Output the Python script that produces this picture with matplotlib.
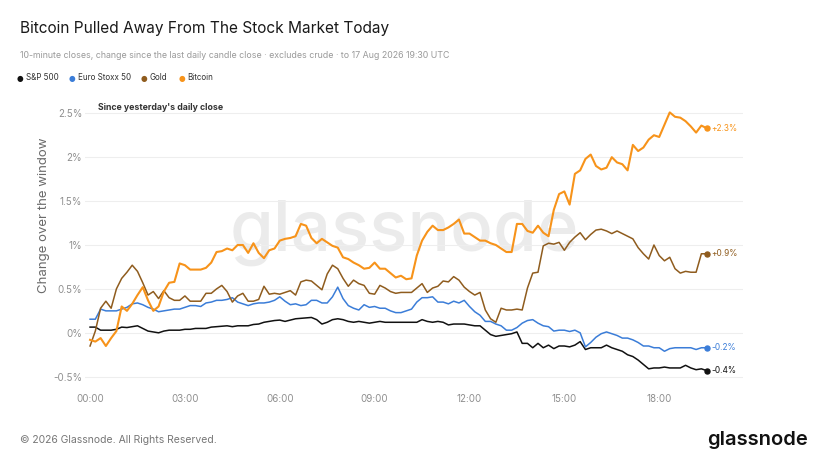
import matplotlib
matplotlib.use("Agg")
import matplotlib.pyplot as plt
import numpy as np

plt.rcParams['font.family'] = ['Inter', 'DejaVu Sans']

# ---------------- data ----------------
series_names = ["S&P 500", "Euro Stoxx 50", "Gold", "Bitcoin"]
series_colors = ["#111111", "#3b7dd8", "#8f5c1e", "#f7931a"]
end_labels = ["-0.4%", "-0.2%", "+0.9%", "+2.3%"]

xtick_hours = [0, 3, 6, 9, 12, 15, 18]
xtick_labels = ["00:00", "03:00", "06:00", "09:00", "12:00", "15:00", "18:00"]
ytick_values = [-0.5, 0, 0.5, 1, 1.5, 2, 2.5]
ytick_labels = ["-0.5%", "0%", "0.5%", "1%", "1.5%", "2%", "2.5%"]

# 10-minute closes, 00:00 .. 19:30 UTC (118 points), % change
sp500 = [
    0.065, 0.065, 0.03, 0.03, 0.03, 0.04, 0.065, 0.06, 0.07, 0.08,
    0.05, 0.02, 0.01, 0.00, 0.02, 0.03, 0.03, 0.03, 0.04, 0.04,
    0.05, 0.05, 0.05, 0.065, 0.07, 0.075, 0.08, 0.07, 0.08, 0.08,
    0.08, 0.095, 0.10, 0.12, 0.13, 0.14, 0.145, 0.13, 0.145, 0.16,
    0.165, 0.17, 0.175, 0.15, 0.10, 0.12, 0.15, 0.16, 0.15, 0.13,
    0.12, 0.13, 0.12, 0.11, 0.12, 0.13, 0.12, 0.12, 0.12, 0.12,
    0.12, 0.12, 0.12, 0.15, 0.13, 0.12, 0.13, 0.12, 0.09, 0.10,
    0.10, 0.10, 0.09, 0.08, 0.08, 0.03, -0.02, -0.04, -0.03, -0.02,
    -0.01, 0.01, -0.12, -0.12, -0.17, -0.12, -0.17, -0.14, -0.18, -0.15,
    -0.15, -0.16, -0.14, -0.10, -0.19, -0.17, -0.17, -0.17, -0.14, -0.17,
    -0.19, -0.21, -0.25, -0.27, -0.31, -0.36, -0.41, -0.40, -0.40, -0.39,
    -0.40, -0.40, -0.40, -0.37, -0.40, -0.42, -0.41, -0.43,
]
eurostoxx = [
    0.155, 0.155, 0.27, 0.25, 0.25, 0.25, 0.27, 0.29, 0.33, 0.34,
    0.32, 0.29, 0.27, 0.24, 0.25, 0.26, 0.27, 0.27, 0.29, 0.31,
    0.31, 0.30, 0.34, 0.35, 0.37, 0.37, 0.38, 0.40, 0.35, 0.33,
    0.31, 0.33, 0.34, 0.34, 0.35, 0.37, 0.41, 0.36, 0.32, 0.33,
    0.31, 0.32, 0.37, 0.37, 0.34, 0.34, 0.41, 0.52, 0.39, 0.31,
    0.28, 0.26, 0.32, 0.29, 0.30, 0.28, 0.28, 0.25, 0.23, 0.23,
    0.25, 0.27, 0.35, 0.40, 0.40, 0.41, 0.35, 0.35, 0.33, 0.36,
    0.34, 0.37, 0.30, 0.24, 0.20, 0.13, 0.13, 0.10, 0.08, 0.03,
    0.03, 0.06, 0.11, 0.14, 0.15, 0.11, 0.08, 0.07, 0.02, 0.03,
    0.03, 0.015, 0.03, 0.00, -0.16, -0.11, -0.05, -0.01, 0.01, -0.01,
    -0.03, -0.06, -0.06, -0.08, -0.11, -0.15, -0.15, -0.17, -0.17, -0.21,
    -0.18, -0.17, -0.17, -0.17, -0.17, -0.19, -0.17, -0.17,
]
gold = [
    -0.15, 0.02, 0.28, 0.36, 0.28, 0.50, 0.62, 0.69, 0.77, 0.70,
    0.57, 0.43, 0.47, 0.39, 0.48, 0.40, 0.37, 0.37, 0.42, 0.36,
    0.36, 0.36, 0.45, 0.45, 0.50, 0.54, 0.47, 0.35, 0.42, 0.45,
    0.36, 0.36, 0.38, 0.53, 0.44, 0.45, 0.44, 0.46, 0.48, 0.43,
    0.58, 0.60, 0.59, 0.54, 0.49, 0.67, 0.77, 0.73, 0.62, 0.53,
    0.60, 0.56, 0.54, 0.45, 0.44, 0.54, 0.51, 0.47, 0.45, 0.46,
    0.46, 0.46, 0.51, 0.56, 0.46, 0.51, 0.53, 0.59, 0.58, 0.64,
    0.60, 0.52, 0.47, 0.43, 0.46, 0.26, 0.16, 0.12, 0.28, 0.26,
    0.26, 0.27, 0.26, 0.51, 0.68, 0.69, 0.99, 1.02, 1.01, 1.03,
    0.94, 1.03, 1.09, 1.14, 1.06, 1.12, 1.17, 1.18, 1.16, 1.13,
    1.16, 1.13, 1.10, 1.07, 0.97, 0.90, 0.84, 1.00, 0.88, 0.82,
    0.86, 0.73, 0.68, 0.70, 0.69, 0.69, 0.90, 0.90,
]
bitcoin = [
    -0.08, -0.10, -0.06, -0.15, -0.06, 0.02, 0.30, 0.25, 0.33, 0.43,
    0.52, 0.37, 0.25, 0.30, 0.47, 0.57, 0.58, 0.79, 0.77, 0.72,
    0.72, 0.72, 0.74, 0.80, 0.92, 0.93, 0.96, 0.94, 1.00, 1.00,
    0.91, 1.02, 0.91, 0.85, 0.94, 0.96, 1.05, 1.07, 1.08, 1.10,
    1.24, 1.22, 1.08, 1.02, 1.07, 1.03, 0.99, 0.97, 0.86, 0.84,
    0.80, 0.77, 0.73, 0.74, 0.80, 0.73, 0.73, 0.68, 0.63, 0.65,
    0.61, 0.62, 0.88, 1.05, 1.15, 1.22, 1.17, 1.17, 1.20, 1.24,
    1.29, 1.13, 1.13, 1.09, 1.05, 1.05, 1.02, 1.00, 0.96, 0.92,
    0.92, 1.24, 1.24, 1.16, 1.14, 1.22, 1.14, 1.10, 1.40, 1.58,
    1.61, 1.46, 1.81, 1.85, 1.98, 2.03, 1.90, 1.86, 1.88, 2.00,
    1.94, 1.92, 1.85, 2.14, 2.07, 2.11, 2.20, 2.25, 2.23, 2.37,
    2.51, 2.46, 2.45, 2.41, 2.35, 2.28, 2.36, 2.33,
]
series_values = [sp500, eurostoxx, gold, bitcoin]
series_lw = [1.1, 1.1, 1.1, 1.5]

# ---------------- figure ----------------
W, H = 828, 466
fig = plt.figure(figsize=(W / 100, H / 100), dpi=100)
fig.patch.set_facecolor("white")
ax = fig.add_axes([85 / W, 1 - 382 / H, (743 - 85) / W, (382 - 108) / H])

hours = np.arange(len(bitcoin)) / 6.0

# watermark
ax.text(0.486, 0.545, "glassnode", transform=ax.transAxes, ha="center", va="center",
        fontsize=51, color="#ebebeb", fontweight="medium", zorder=0)

for vals, col, lw, lab in zip(series_values, series_colors, series_lw, end_labels):
    ax.plot(hours, vals, color=col, lw=lw, zorder=3, solid_joinstyle="round")
    ax.plot(hours[-1], vals[-1], "o", color=col, ms=3.6, zorder=4)
    ax.annotate(lab, (hours[-1], vals[-1]), xytext=(3.5, 0), textcoords="offset points",
                ha="left", va="center", fontsize=6, color=col)

ax.set_xlim(-0.16, 20.65)
ax.set_ylim(-0.56, 2.56)
ax.set_xticks(xtick_hours)
ax.set_xticklabels(xtick_labels)
ax.set_yticks(ytick_values)
ax.set_yticklabels(ytick_labels)
ax.tick_params(length=0, labelsize=7, labelcolor="#8f8f8f", pad=9)
ax.tick_params(axis="y", pad=2)
ax.grid(axis="y", color="#eeeeee", lw=0.8)
ax.set_axisbelow(True)
for s in ax.spines.values():
    s.set_visible(False)

fig.text(44 / W, 1 - 215 / H, "Change over the window", rotation=90,
         fontsize=9.5, color="#6a6a6a", ha="center", va="center")

fig.text(98 / W, 1 - 107 / H, "Since yesterday's daily close",
         fontsize=6.3, fontweight="bold", color="#333333", ha="left", va="center")

# titles
fig.text(20 / W, 1 - 29 / H, "Bitcoin Pulled Away From The Stock Market Today",
         fontsize=11.1, color="#1a1a1a", ha="left", va="center")
fig.text(20 / W, 1 - 55 / H,
         "10-minute closes, change since the last daily candle close \u00b7 excludes crude \u00b7 to 17 Aug 2026 19:30 UTC",
         fontsize=6.35, color="#999999", ha="left", va="center")

# legend
leg_dot_x = [20, 72, 144, 182]
leg_txt_x = [26, 78, 150, 187]
for xd, xt, name, col in zip(leg_dot_x, leg_txt_x, series_names, series_colors):
    fig.text(xd / W, 1 - 78.5 / H, "\u25cf", fontsize=5.5, color=col, ha="center", va="center",
             family=["DejaVu Sans"])
    fig.text(xt / W, 1 - 78 / H, name, fontsize=5.8, color="#333333",
             ha="left", va="center")

# footer
fig.text(20 / W, 1 - 440 / H, "\u00a9 2026 Glassnode. All Rights Reserved.",
         fontsize=7.5, color="#777777", ha="left", va="center")
fig.text(808 / W, 1 - 440 / H, "glassnode", fontsize=14.5, fontweight="semibold",
         color="#111111", ha="right", va="center")

fig.savefig("out.png", dpi=100)
